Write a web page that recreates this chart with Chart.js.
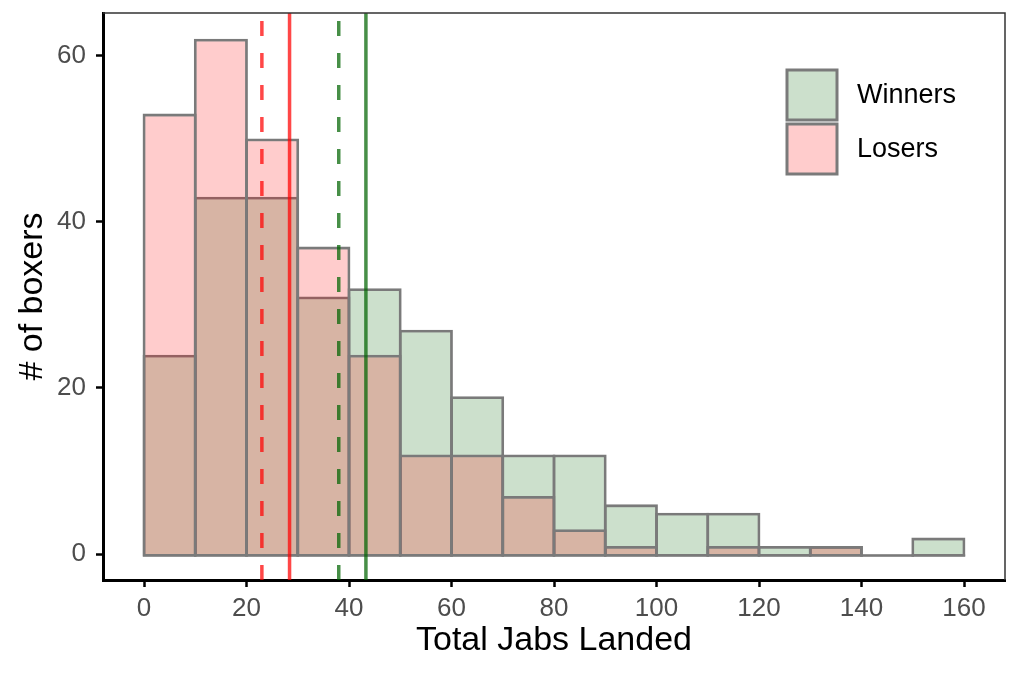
<!DOCTYPE html>
<html>
<head>
<meta charset="utf-8">
<title>Total Jabs Landed</title>
<script src="https://cdn.jsdelivr.net/npm/chart.js@4.4.1/dist/chart.umd.min.js"></script>
<style>
  html, body { margin: 0; padding: 0; background: #fff; }
  #wrap { width: 1024px; height: 687px; position: relative; }
</style>
</head>
<body>
<div id="wrap"><canvas id="chart"></canvas></div>
<script>
// histogram bins, lower edge of each 10-jab bin
const binStarts = [0, 10, 20, 30, 40, 50, 60, 70, 80, 90, 100, 110, 120, 130, 140, 150];
const binWidth = 10;

// counts per bin
const winners = [24, 43, 43, 31, 32, 27, 19, 12, 12, 6, 5, 5, 1, 1, 0, 2];
const losers  = [53, 62, 50, 37, 24, 12, 12, 7, 3, 1, 0, 1, 0, 1, 0, 0];

// dashed = median, solid = mean
const winnersMedian = 38.0;
const winnersMean = 43.3;
const losersMedian = 23.0;
const losersMean = 28.4;

const xTicks = [0, 20, 40, 60, 80, 100, 120, 140, 160];
const yTicks = [0, 20, 40, 60];

const seriesNames = ['Winners', 'Losers'];

const winnersFill = 'rgba(0, 100, 0, 0.2)';
const losersFill = 'rgba(255, 0, 0, 0.2)';
const outline = '#7a7a7a';
const winnersLine = 'rgba(0, 100, 0, 0.72)';
const losersLine = 'rgba(255, 0, 0, 0.72)';

Chart.defaults.font.family = "'Liberation Sans', Arial, Helvetica, sans-serif";

const toPoints = counts => binStarts.map((s, i) => ({ x: s + binWidth / 2, y: counts[i] }));

const barStyle = {
  borderColor: outline,
  borderWidth: 2.8,
  borderSkipped: false,
  grouped: false,
  barPercentage: 1.055,
  categoryPercentage: 1,
  base: -0.3
};

// vertical median / mean lines, drawn over the bars
const refLines = {
  id: 'refLines',
  afterDatasetsDraw(chart) {
    const { ctx, chartArea: a, scales: { x } } = chart;
    const lines = [
      { value: losersMedian, color: losersLine, dashed: true },
      { value: losersMean, color: losersLine, dashed: false },
      { value: winnersMedian, color: winnersLine, dashed: true },
      { value: winnersMean, color: winnersLine, dashed: false }
    ];
    ctx.save();
    ctx.beginPath();
    ctx.rect(a.left, a.top, a.right - a.left, a.bottom - a.top);
    ctx.clip();
    lines.forEach(l => {
      const px = x.getPixelForValue(l.value);
      ctx.strokeStyle = l.color;
      ctx.lineWidth = 3.5;
      ctx.setLineDash(l.dashed ? [15, 17] : []);
      ctx.beginPath();
      ctx.moveTo(px, a.bottom);
      ctx.lineTo(px, a.top);
      ctx.stroke();
    });
    ctx.restore();
  }
};

// thin top and right edges of the panel
const panelFrame = {
  id: 'panelFrame',
  afterDraw(chart) {
    const { ctx, chartArea: a } = chart;
    ctx.save();
    ctx.strokeStyle = '#333';
    ctx.lineWidth = 1.5;
    ctx.beginPath();
    ctx.moveTo(a.left, a.top);
    ctx.lineTo(a.right, a.top);
    ctx.lineTo(a.right, a.bottom);
    ctx.stroke();
    ctx.restore();
  }
};

// legend inside the panel, top right
const boxLegend = {
  id: 'boxLegend',
  afterDraw(chart) {
    const { ctx } = chart;
    const fills = [winnersFill, losersFill];
    ctx.save();
    ctx.font = "27px 'Liberation Sans', Arial, sans-serif";
    ctx.textBaseline = 'middle';
    ctx.textAlign = 'left';
    seriesNames.forEach((name, i) => {
      const x = 787, y = 70 + i * 54, s = 50;
      ctx.fillStyle = '#fff';
      ctx.fillRect(x, y, s, s);
      ctx.fillStyle = fills[i];
      ctx.fillRect(x, y, s, s);
      ctx.strokeStyle = outline;
      ctx.lineWidth = 3;
      ctx.strokeRect(x, y, s, s);
      ctx.fillStyle = '#000';
      ctx.fillText(name, 857, y + s / 2 + 1);
    });
    ctx.restore();
  }
};

const axisGrid = {
  drawOnChartArea: false,
  drawTicks: true,
  tickLength: 7,
  tickWidth: 2.5,
  tickColor: '#000',
  offset: false
};

new Chart(document.getElementById('chart'), {
  type: 'bar',
  data: {
    datasets: [
      { label: seriesNames[1], data: toPoints(losers), backgroundColor: losersFill, order: 1, ...barStyle },
      { label: seriesNames[0], data: toPoints(winners), backgroundColor: winnersFill, order: 2, ...barStyle }
    ]
  },
  options: {
    responsive: true,
    maintainAspectRatio: false,
    animation: false,
    layout: { padding: { top: 13, right: 19, left: 0, bottom: 0 } },
    plugins: {
      legend: { display: false },
      tooltip: { enabled: false }
    },
    scales: {
      x: {
        type: 'linear',
        min: -8,
        max: 168,
        offset: false,
        afterBuildTicks: s => { s.ticks = xTicks.map(v => ({ value: v })); },
        afterFit: s => { s.height = 107; s.paddingLeft = 0; s.paddingRight = 0; },
        grid: axisGrid,
        border: { display: true, color: '#000', width: 3 },
        ticks: { color: '#4d4d4d', font: { size: 26 }, padding: 6, maxRotation: 0, autoSkip: false },
        title: {
          display: true,
          text: 'Total Jabs Landed',
          color: '#000',
          font: { size: 34 },
          padding: { top: 0, bottom: 26 }
        }
      },
      y: {
        type: 'linear',
        min: -3.1,
        max: 65.1,
        afterBuildTicks: s => { s.ticks = yTicks.map(v => ({ value: v })); },
        afterFit: s => { s.width = 103; s.paddingTop = 0; s.paddingBottom = 0; },
        grid: axisGrid,
        border: { display: true, color: '#000', width: 3 },
        ticks: { color: '#4d4d4d', font: { size: 26 }, padding: 10 },
        title: {
          display: true,
          text: '# of boxers',
          color: '#000',
          font: { size: 34 },
          padding: { top: 12, bottom: 0 }
        }
      }
    }
  },
  plugins: [refLines, panelFrame, boxLegend]
});
</script>
</body>
</html>
